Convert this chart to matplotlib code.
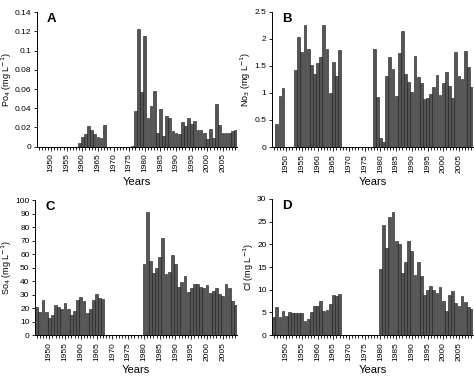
import matplotlib
matplotlib.use('Agg')
import matplotlib.pyplot as plt
from matplotlib.ticker import MultipleLocator, FuncFormatter

plt.rcParams['font.family'] = ['Liberation Sans', 'DejaVu Sans']

# years 1946 - 2009, one bar per year (0 = no data)
years = list(range(1946, 2010))

po4 = [0, 0, 0, 0, 0, 0, 0, 0, 0, 0, 0, 0, 0,
       0.004, 0.010, 0.013, 0.021, 0.017, 0.013, 0.010, 0.009, 0.023,
       0, 0, 0, 0, 0, 0, 0, 0,
       0.001,
       0.037, 0.122, 0.057, 0.115, 0.030, 0.042, 0.058, 0.014, 0.039, 0.011,
       0.032, 0.030, 0.016, 0.014, 0.013, 0.026, 0.022, 0.030, 0.024, 0.027,
       0.017, 0.017, 0.014, 0.008, 0.018, 0.009, 0.044, 0.023, 0.014, 0.014,
       0.014, 0.016, 0.017]

no3 = [0, 0.43, 0.95, 1.10, 0, 0, 0,
       1.43, 2.03, 1.75, 2.25, 1.81, 1.52, 1.35, 1.56, 1.66, 2.25, 1.82,
       1.00, 1.57, 1.32, 1.80,
       0, 0, 0, 0, 0, 0, 0, 0, 0, 0,
       1.82, 0.93, 0.17, 0.10, 1.32, 1.67, 1.45, 0.95, 1.74, 2.15,
       1.35, 1.20, 1.02, 1.69, 1.30, 1.19, 0.89, 0.90, 0.98, 1.11,
       1.34, 0.96, 1.19, 1.38, 1.13, 0.91, 1.75, 1.32, 1.26, 1.78,
       1.48, 1.11]

so4 = [21, 17, 25.7, 16.8, 12.3, 14.8, 22, 20.7, 19.3, 23.5, 19.5,
       14.8, 18, 26, 28, 25, 16.3, 19.3, 26, 30.4, 27.7, 27,
       0, 0, 0, 0, 0, 0, 0, 0, 0, 0, 0, 0,
       53, 91, 55, 46, 50, 57.5, 72, 45.5, 47, 59,
       53, 35.5, 39, 43.5, 32, 34.5, 38, 38, 35.5, 35,
       37, 31, 33, 35, 30.5, 29, 38, 35, 25.5, 22.5]

cl = [4.0, 6.1, 4.0, 5.3, 4.2, 5.0, 4.8, 4.8, 4.8, 4.9, 3.2,
      3.5, 5.1, 6.5, 6.5, 7.4, 5.2, 5.5, 6.9, 8.8, 8.7, 9.0,
      0, 0, 0, 0, 0, 0, 0, 0, 0, 0, 0, 0,
      14.5, 24.3, 19.3, 26, 27.2, 20.8, 20, 13.7, 16.2, 20.8,
      18.6, 13.3, 16, 13, 8.8, 10, 10.8, 9.9, 9.2, 10.6,
      7.4, 5.3, 8.8, 9.7, 7.0, 6.5, 8.5, 7.2, 6.2, 5.7]

fig = plt.figure(figsize=(4.74, 3.79), dpi=100)

panels = [
    ('A', po4, 'Po$_4$ (mg L$^{-1}$)', 0.14, 0.02, [0.078, 0.613, 0.422, 0.355]),
    ('B', no3, 'No$_3$ (mg L$^{-1}$)', 2.5, 0.5, [0.574, 0.612, 0.424, 0.357]),
    ('C', so4, 'So$_4$ (mg L$^{-1}$)', 100, 10, [0.074, 0.116, 0.426, 0.356]),
    ('D', cl, 'Cl (mg L$^{-1}$)', 30, 5, [0.574, 0.116, 0.424, 0.359]),
]

for letter, vals, ylab, ymax, step, rect in panels:
    ax = fig.add_axes(rect)
    ax.bar(years, vals, width=0.9, color='#555555', edgecolor='#1a1a1a', linewidth=0.4)
    ax.set_xlim(1945.5, 2009.5)
    ax.set_ylim(0, ymax)
    ax.spines['top'].set_visible(False)
    ax.spines['right'].set_visible(False)
    ax.spines['left'].set_linewidth(0.7)
    ax.spines['bottom'].set_linewidth(0.7)

    ax.set_xticks(range(1950, 2010, 5))
    ax.set_xticks(years, minor=True)
    ax.tick_params(axis='x', which='major', length=3, width=0.6, labelsize=6, rotation=90, pad=2)
    ax.tick_params(axis='x', which='minor', length=2, width=0.6)
    ax.yaxis.set_major_locator(MultipleLocator(step))
    ax.yaxis.set_major_formatter(FuncFormatter(lambda v, p: '%g' % round(v, 4)))
    ax.tick_params(axis='y', length=2.5, width=0.6, labelsize=6, pad=1.5)

    ax.set_xlabel('Years', fontsize=8, labelpad=3)
    ax.set_ylabel(ylab, fontsize=6.5, labelpad=1)
    ax.text(0.05, 0.99, letter, transform=ax.transAxes, fontsize=9.5,
            fontweight='bold', va='top', ha='left')

plt.savefig('out.png', dpi=100)
